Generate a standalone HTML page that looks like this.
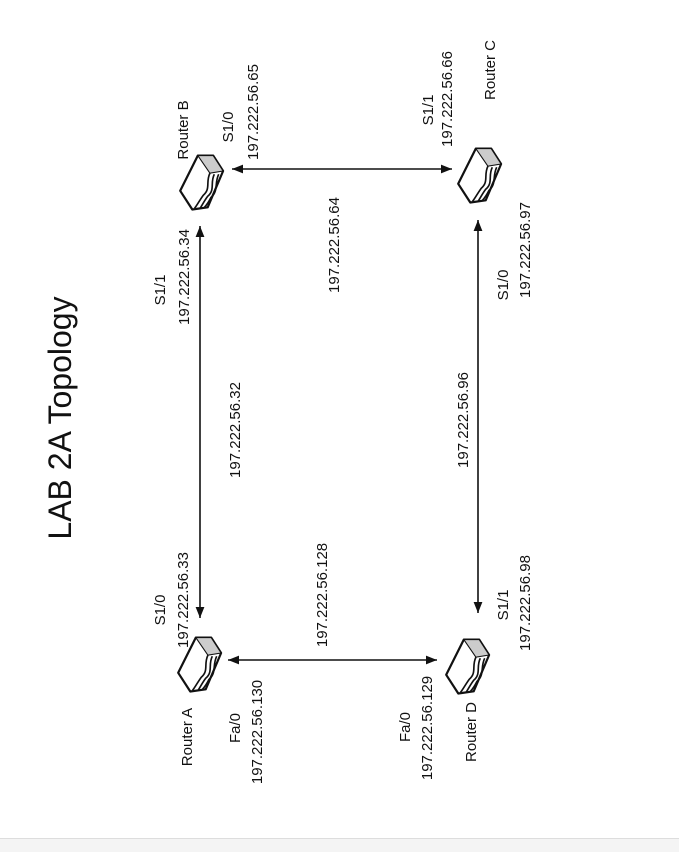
<!DOCTYPE html>
<html><head><meta charset="utf-8"><style>
html,body{margin:0;padding:0;background:#fff;}
svg{display:block;}
text{font-family:"Liberation Sans",Arial,sans-serif;fill:#111;}
</style></head><body>
<svg width="679" height="852" viewBox="0 0 679 852" xmlns="http://www.w3.org/2000/svg">
<defs>
<marker id="ar" viewBox="0 0 10 10" refX="10" refY="5" markerWidth="11" markerHeight="11" orient="auto-start-reverse" markerUnits="userSpaceOnUse">
<path d="M0,1 L10,5 L0,9 Z" fill="#111"/>
</marker>
<g id="rt" transform="scale(1.1)">
<polygon points="-18,8 -2,-24 12,-24 21,-10 7,23 -7,25" fill="#fff" stroke="#111" stroke-width="2" stroke-linejoin="round"/>
<polygon points="-2,-24 12,-24 21,-10 9,-8" fill="#ccc" stroke="#111" stroke-width="1"/>
<path d="M9,-8 C5,0 10,6 3,12 C0,16 -2,20 -5,24" fill="none" stroke="#111" stroke-width="1.5"/>
<path d="M13,-7 C9,1 14,7 7,13 C4,17 2,21 0,24" fill="none" stroke="#111" stroke-width="1.5"/>
<path d="M17,-7 C13,1 17,8 10,14 C8,18 6,21 4,23" fill="none" stroke="#111" stroke-width="1.5"/>
</g>
</defs>

<use href="#rt" x="200" y="182"/>
<use href="#rt" x="478" y="175"/>
<use href="#rt" x="198" y="664"/>
<use href="#rt" x="466" y="666"/>

<g stroke="#111" stroke-width="1.6" fill="none">
<line x1="232" y1="169" x2="452" y2="169" marker-start="url(#ar)" marker-end="url(#ar)"/>
<line x1="228" y1="660" x2="437" y2="660" marker-start="url(#ar)" marker-end="url(#ar)"/>
<line x1="200" y1="226" x2="200" y2="618" marker-start="url(#ar)" marker-end="url(#ar)"/>
<line x1="478" y1="220" x2="478" y2="613" marker-start="url(#ar)" marker-end="url(#ar)"/>
</g>

<text transform="translate(71,418) rotate(-90)" text-anchor="middle" font-size="32">LAB 2A Topology</text>

<g font-size="15" text-anchor="middle">
<text transform="translate(188,130) rotate(-90)">Router B</text>
<text transform="translate(233,127) rotate(-90)">S1/0</text>
<text transform="translate(258,112) rotate(-90)">197.222.56.65</text>
<text transform="translate(433,110) rotate(-90)">S1/1</text>
<text transform="translate(452,99) rotate(-90)">197.222.56.66</text>
<text transform="translate(495,70) rotate(-90)">Router C</text>
<text transform="translate(339,245) rotate(-90)">197.222.56.64</text>

<text transform="translate(165,290) rotate(-90)">S1/1</text>
<text transform="translate(189,277) rotate(-90)">197.222.56.34</text>
<text transform="translate(240,430) rotate(-90)">197.222.56.32</text>
<text transform="translate(508,285) rotate(-90)">S1/0</text>
<text transform="translate(530,250) rotate(-90)">197.222.56.97</text>
<text transform="translate(468,420) rotate(-90)">197.222.56.96</text>

<text transform="translate(165,610) rotate(-90)">S1/0</text>
<text transform="translate(188,600) rotate(-90)">197.222.56.33</text>
<text transform="translate(327,595) rotate(-90)">197.222.56.128</text>
<text transform="translate(508,605) rotate(-90)">S1/1</text>
<text transform="translate(530,603) rotate(-90)">197.222.56.98</text>

<text transform="translate(192,737) rotate(-90)">Router A</text>
<text transform="translate(240,728) rotate(-90)">Fa/0</text>
<text transform="translate(262,732) rotate(-90)">197.222.56.130</text>
<text transform="translate(410,727) rotate(-90)">Fa/0</text>
<text transform="translate(432,728) rotate(-90)">197.222.56.129</text>
<text transform="translate(476,732) rotate(-90)">Router D</text>
</g>

<rect x="0" y="838" width="679" height="14" fill="#f4f4f4"/>
<line x1="0" y1="838.5" x2="679" y2="838.5" stroke="#ddd"/>
</svg>
</body></html>
